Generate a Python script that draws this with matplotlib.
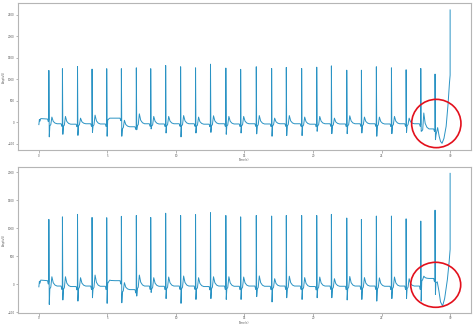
# -*- coding: utf-8 -*-
"""
Two ECG traces (raw / processed) with the ending artifact circled in red.
"""
import matplotlib
matplotlib.use('Agg')
import matplotlib.pyplot as plt
from matplotlib.patches import Ellipse

# R peak times (s), shared by both traces
beat_times = [0.73, 1.72, 2.82, 3.88, 4.95, 6.02, 7.11, 8.16, 9.25, 10.34, 11.43, 12.52, 13.64,
              14.72, 15.86, 16.98, 18.05, 19.17, 20.27, 21.34, 22.46, 23.53, 24.62, 25.72,
              26.79, 27.86, 28.90]

# top trace (uV)
top_r = [1200, 1240, 1290, 1230, 1240, 1240, 1260, 1240, 1315, 1285, 1260, 1345, 1255,
         1225, 1285, 1245, 1270, 1245, 1275, 1305, 1205, 1205, 1285, 1260, 1215, 1245, 1115]
top_s = [-345, -285, -310, -240, -330, -330, -180, -160, -255, -345, -255, -240, -285,
         -255, -275, -330, -315, -315, -215, -270, -270, -255, -330, -270, -240, -215, -410]
top_t = [115, 130, 90, 160, 90, 40, 190, 130, 130, 150, 115, 145, 130,
         130, 150, 90, 150, 115, 130, 90, 145, 115, 115, 130, 90, 210]
top_base = [-40, -50, -40, -45, 90, -110, -40, -45, -40, -40, -50, -40, -45,
            -40, -45, -40, -40, -50, -40, -45, -40, -40, -45, -40, -40, -160]
top_start_t = [0.0, 0.04, 0.08, 0.14, 0.55]
top_start_v = [-60, 60, 20, 80, 70]
top_tail_t = [28.97, 29.09, 29.2, 29.3, 29.41, 29.55, 29.71, 29.85, 29.95, 30.0, 30.0]
top_tail_v = [-300, -130, -330, -450, -495, -380, -100, 420, 900, 1090, 2606]

# bottom trace (uV)
bottom_r = [1155, 1200, 1245, 1190, 1185, 1210, 1225, 1190, 1265, 1225, 1240, 1275, 1225,
            1200, 1225, 1215, 1225, 1225, 1225, 1245, 1180, 1155, 1215, 1215, 1165, 1125, 1320]
bottom_s = [-365, -285, -305, -245, -345, -335, -215, -150, -260, -345, -275, -260, -275,
            -275, -225, -320, -245, -275, -245, -245, -285, -275, -305, -260, -260, -305, -185]
bottom_t = [130, 130, 113, 160, 70, 24, 160, 113, 125, 143, 113, 130, 130,
            125, 145, 95, 140, 115, 125, 95, 135, 115, 110, 125, 95, 140]
bottom_base = [-36, -45, -36, -40, 60, -100, -36, -40, -36, -36, -45, -36, -40,
               -36, -40, -36, -36, -45, -36, -40, -36, -36, -40, -36, -36, 100]
bottom_start_t = [0.0, 0.04, 0.08, 0.14, 0.55]
bottom_start_v = [-50, 50, 15, 70, 60]
bottom_tail_t = [28.96, 29.06, 29.18, 29.3, 29.45, 29.6, 29.8, 29.93, 30.0, 30.0]
bottom_tail_v = [20, 40, -120, -320, -393, -260, 80, 400, 620, 1978]

LINE_COLOR = '#2a93c4'
SPINE_COLOR = '#b5b5b5'


def _build_trace(r, s, t, base, start_t, start_v, tail_t, tail_v):
    """
    Chains the key points of every beat into one polyline

    Returns:
        times, values
    """
    xs = list(start_t)
    ys = list(start_v)
    prev = start_v[-1]
    for i, tb in enumerate(beat_times):
        xs += [tb - 0.1, tb - 0.04, tb - 0.01, tb, tb + 0.03]
        ys += [prev, prev - 60, prev - 20, r[i], s[i]]
        if i == len(beat_times) - 1:
            break
        b = base[i]
        xs += [tb + 0.07, tb + 0.14, tb + 0.22, tb + 0.32, tb + 0.45, tb + 0.6]
        ys += [b - 50, b - 20, t[i], b + 0.35 * (t[i] - b), b + 0.1 * (t[i] - b), b]
        prev = b
    xs += tail_t
    ys += tail_v
    return xs, ys


def _style_axes(ax):
    for sp in ax.spines.values():
        sp.set_color(SPINE_COLOR)
        sp.set_linewidth(0.8)
    ax.tick_params(labelsize=2, length=1.8, width=0.5, pad=0.8, color='#999999', labelcolor='#555555')
    ax.set_xticks([0, 5, 10, 15, 20, 25, 30])
    ax.set_xlabel('Time(s)', fontsize=2, labelpad=0.3, color='#555555')
    ax.set_ylabel('Amp(uV)', fontsize=2, labelpad=1, color='#555555')


fig = plt.figure(figsize=(4.74, 3.25), dpi=100)
ax_top = fig.add_axes([0.0386, 0.5385, 0.9544, 0.4514])
ax_bot = fig.add_axes([0.0386, 0.038, 0.9544, 0.449])

x, y = _build_trace(top_r, top_s, top_t, top_base, top_start_t, top_start_v, top_tail_t, top_tail_v)
ax_top.plot(x, y, color=LINE_COLOR, lw=0.7)
ax_top.set_yticks([-500, 0, 500, 1000, 1500, 2000, 2500])
_style_axes(ax_top)

x, y = _build_trace(bottom_r, bottom_s, bottom_t, bottom_base, bottom_start_t, bottom_start_v,
                    bottom_tail_t, bottom_tail_v)
ax_bot.plot(x, y, color=LINE_COLOR, lw=0.7)
ax_bot.set_yticks([-500, 0, 500, 1000, 1500, 2000])
_style_axes(ax_bot)

# red circles around the artifact (figure pixel coords / size)
for cx, cy, w, h in [(436.3, 123.5, 49.3, 48.3), (435.7, 284.8, 50, 45)]:
    e = Ellipse((cx / 474, 1 - cy / 325), w / 474, h / 325, transform=fig.transFigure,
                fill=False, edgecolor='#e3101c', lw=1.2)
    fig.patches.append(e)

plt.savefig('out.png', dpi=100)
